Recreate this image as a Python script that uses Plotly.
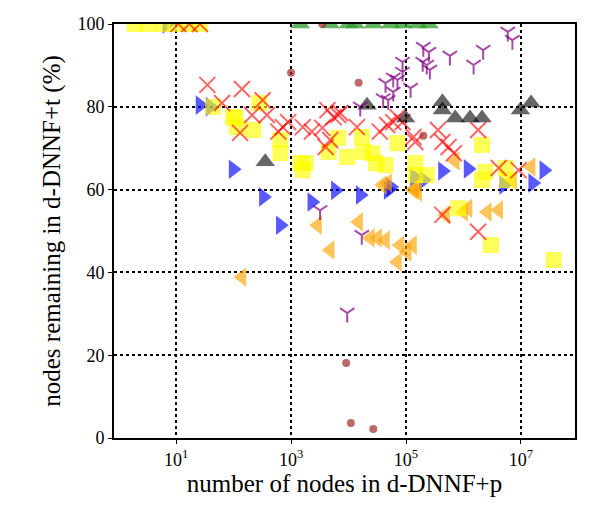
import plotly.graph_objects as go

# values: x = nodes in d-DNNF+p, y = % remaining in d-DNNF+t
blue_x = [6.9, 26, 39, 98, 330, 650, 2.3e3, 5.9e3, 1.6e4, 4.9e4, 5.4e4, 1.4e5, 2.0e5,
          4.3e5, 1.2e6, 5.0e6, 1.6e7, 2.5e7]
blue_y = [100, 80.4, 80, 64.9, 58.2, 51.4, 57, 59.8, 58.7, 59.9, 60.6, 63, 62.3,
          64.5, 65, 61.1, 61.6, 64.7]

orange_x = [140, 2.9e3, 4.8e3, 1.5e4, 2.4e4, 3.2e4, 4.4e4, 7.9e4, 1.3e5, 1.05e5, 7.1e4,
            4.8e4, 3.9e4, 1.6e5, 1.45e5, 4.9e5, 1.0e6, 1.2e6, 2.6e6, 4.1e6, 7.2e5,
            7.1e6, 1.5e7, 1.35e5]
orange_y = [38.9, 51.4, 45.4, 52.2, 48.3, 48.3, 47.8, 46.6, 46.6, 44.9, 42.5,
            61.6, 61.1, 59.4, 60.4, 53.9, 54.6, 55.5, 54.6, 55.1, 66.9,
            62.3, 65.5, 59.9]

yellow_x = [1.9, 3.2, 5.8, 9.6, 16, 26, 44, 98, 107, 115, 220, 280, 650, 650, 1.45e3,
            1.6e3, 1.8e3, 4.5e3, 6.6e3, 9.5e3, 1.7e4, 1.8e4, 2.6e4, 3.0e4, 4.4e4, 7.1e4,
            1.45e5, 1.45e5, 2.3e5, 8.1e5, 2.1e6, 2.4e6, 2.1e6, 3.0e6, 5.4e6, 5.8e6, 3.7e7]
yellow_y = [100, 100, 100, 100, 100, 100, 80, 77.5, 77.3, 75.1, 74.4, 80.9, 72, 68.8, 66.4,
            64.7, 66.4, 69.1, 72.5, 67.9, 72.7, 69.1, 68.8, 66.4, 65.9, 71.2,
            66.4, 63.5, 63.5, 55.5, 70.8, 64.3, 62.3, 46.6, 65.2, 62.3, 43]

red_x = [11, 17, 26, 35, 63, 140, 130, 320, 210, 380, 600, 890, 720, 1.6e3, 2.3e3, 4.3e3,
         5.5e3, 6.6e3, 3.5e3, 4.8e3, 4.0e3, 1.4e4, 7.2e3, 3.5e4, 4.7e4, 6.0e4, 7.1e4,
         8.7e4, 1.35e5, 1.45e5, 3.6e5, 4.3e5, 5.5e5, 6.8e5, 1.8e6, 4.1e6, 9.1e6,
         4.3e5, 1.8e6]
red_y = [100, 100, 100, 85.3, 80.9, 84.3, 73.7, 81.6, 78, 78, 74, 76.3, 75.1, 75.1, 74, 79.2,
         77.5, 78, 74.9, 72, 70.3, 75.1, 78.5, 74, 75.6, 76.3, 77.5,
         76.3, 72.7, 71.5, 74.4, 71.5, 70.3, 68.8, 74.4, 65.2, 64.7,
         53.9, 49.8]

black_x = [355, 2.1e4, 9.8e4, 4.3e5, 4.3e5, 7.2e5, 1.3e6, 2.1e6, 9.8e6, 1.5e7]
black_y = [66.7, 80.4, 77.3, 81.2, 79.2, 77.3, 77.3, 77.3, 79.2, 80.9]

green_x = [1.45e3, 4.8e3, 1.0e4, 1.3e4, 2.7e4, 5.4e4, 8.9e4, 1.6e5, 2.5e5]
green_y = [100, 100, 100, 100, 100, 100, 100, 100, 100]

purple_x = [5.9e6, 7.1e6, 2.2e6, 1.5e6, 5.8e5, 2.0e5, 2.5e5, 1.95e5, 2.3e5, 2.6e5, 8.7e4,
            8.7e4, 7.1e4, 6.0e4, 4.4e4, 1.2e5, 6.0e4, 4.9e4, 4.0e4, 1.6e4, 9.5e3, 1.7e4, 3.2e3]
purple_y = [98.1, 96.1, 93.7, 90.1, 92.3, 94.4, 93.2, 90.8, 90.1, 88.9, 90.8,
            88.4, 86.5, 87, 85.7, 84.5, 83.6, 81.6, 82, 80, 30.2, 49, 55]

brown_x = [3.5e3, 1.0e3, 1.5e4, 2.0e5, 9.1e3, 1.1e4, 2.7e4]
brown_y = [100, 88.2, 85.8, 73, 18.1, 3.6, 2.2]

x_ticks = [10, 1e3, 1e5, 1e7]
x_labels = ["10<sup>1</sup>", "10<sup>3</sup>", "10<sup>5</sup>", "10<sup>7</sup>"]
y_ticks = [0, 20, 40, 60, 80, 100]

fig = go.Figure()


def add(xs, ys, symbol, color, size, opacity, line=None):
    marker = dict(symbol=symbol, color=color, size=size, opacity=opacity)
    if line:
        marker["line"] = line
    else:
        marker["line"] = dict(width=0)
    fig.add_trace(go.Scatter(x=xs, y=ys, mode="markers", marker=marker,
                             showlegend=False, hoverinfo="x+y"))


add(blue_x, blue_y, "triangle-right", "#0000ff", 17, 0.65)
add(orange_x, orange_y, "triangle-left", "#ffa500", 17, 0.65)
add(yellow_x, yellow_y, "square", "#ffff00", 16, 0.65)
add(red_x, red_y, "x-thin", "#ff0000", 16, 0.6, line=dict(color="#ff0000", width=2))
add(black_x, black_y, "triangle-up", "#000000", 17, 0.6)
add(green_x, green_y, "triangle-up", "#2e9a2e", 17, 0.75)
add(purple_x, purple_y, "y-down", "#800080", 12, 0.7, line=dict(color="#800080", width=2))
add(brown_x, brown_y, "circle", "#a52a2a", 8, 0.7)

serif = "Liberation Serif, DejaVu Serif, serif"

# the page is drawn 8px in from the window edge, so the figure is 8px smaller
fig.update_layout(
    width=590, height=497,
    margin=dict(l=106, r=23, t=16, b=67),
    plot_bgcolor="white", paper_bgcolor="white",
    font=dict(family=serif, size=18, color="black"),
)
fig.update_xaxes(
    type="log", range=[-0.08, 7.94], automargin=False,
    tickvals=x_ticks, ticktext=x_labels,
    showgrid=True, gridcolor="black", gridwidth=2, griddash="dot",
    showline=True, linecolor="black", linewidth=2, mirror=True,
    ticks="outside", ticklen=4, tickcolor="black",
    zeroline=False,
    title=dict(text="number of nodes in d-DNNF+p", font=dict(size=25), standoff=6),
)
fig.update_yaxes(
    range=[0, 100], tickvals=y_ticks, automargin=False,
    showgrid=True, gridcolor="black", gridwidth=2, griddash="dot",
    showline=True, linecolor="black", linewidth=2, mirror=True,
    ticks="outside", ticklen=4, tickcolor="black",
    zeroline=False,
    title=dict(text="nodes remaining in d-DNNF+t (%)", font=dict(size=25), standoff=10),
)

fig.write_html("out.html")
